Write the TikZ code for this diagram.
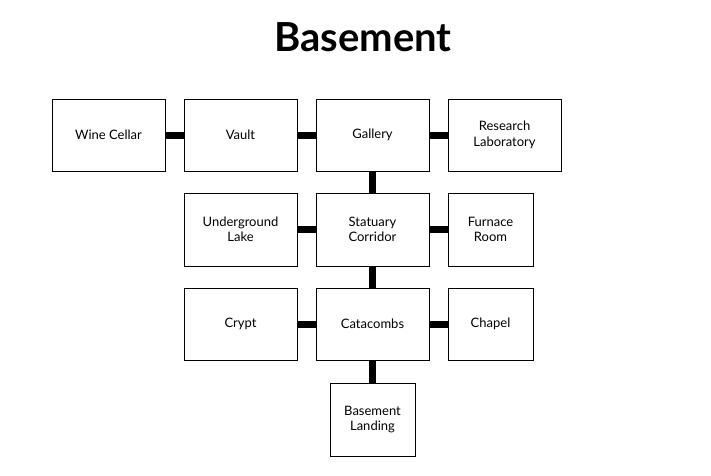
\documentclass[tikz,border=0pt]{standalone}
\usepackage{fontspec}
\setmainfont{Lato}
\begin{document}
\begin{tikzpicture}[x=1pt,y=-1pt,
  room/.style={draw=black,line width=0.8pt,fill=white,align=center,font=\fontsize{13}{15.5}\selectfont,inner sep=0pt},
  link/.style={line width=7pt,black}]
\useasboundingbox (0,0) rectangle (711,475);
\node[font=\fontsize{40}{44}\selectfont\bfseries] (title) at (363,37) {Basement};
\newcommand\room[6]{\node[room,minimum width=#4-#2,minimum height=#5-#3] (#1) at ({(#2+#4)/2},{(#3+#5)/2}) {#6};}
\room{wine}{52}{99}{165}{171}{Wine Cellar}
\room{vault}{184}{99}{297}{171}{Vault}
\room{gallery}{316}{99}{429}{171}{Gallery}
\room{lab}{448}{99}{561}{171}{Research\\Laboratory}
\room{lake}{184}{193}{297}{266}{Underground\\Lake}
\room{statuary}{316}{193}{429}{266}{Statuary\\Corridor}
\room{furnace}{448}{193}{533}{266}{Furnace\\Room}
\room{crypt}{184}{288}{297}{360}{Crypt}
\room{cata}{316}{288}{429}{360}{Catacombs}
\room{chapel}{448}{288}{533}{360}{Chapel}
\room{landing}{330}{383}{415}{456}{Basement\\Landing}
\begin{scope}[on background layer/.try]
\end{scope}
\draw[link] (wine.east) -- (vault.west);
\draw[link] (vault.east) -- (gallery.west);
\draw[link] (gallery.east) -- (lab.west);
\draw[link] (gallery.south) -- (statuary.north);
\draw[link] (lake.east) -- (statuary.west);
\draw[link] (statuary.east) -- (furnace.west);
\draw[link] (statuary.south) -- (cata.north);
\draw[link] (crypt.east) -- (cata.west);
\draw[link] (cata.east) -- (chapel.west);
\draw[link] (cata.south) -- (landing.north);
\end{tikzpicture}
\end{document}
